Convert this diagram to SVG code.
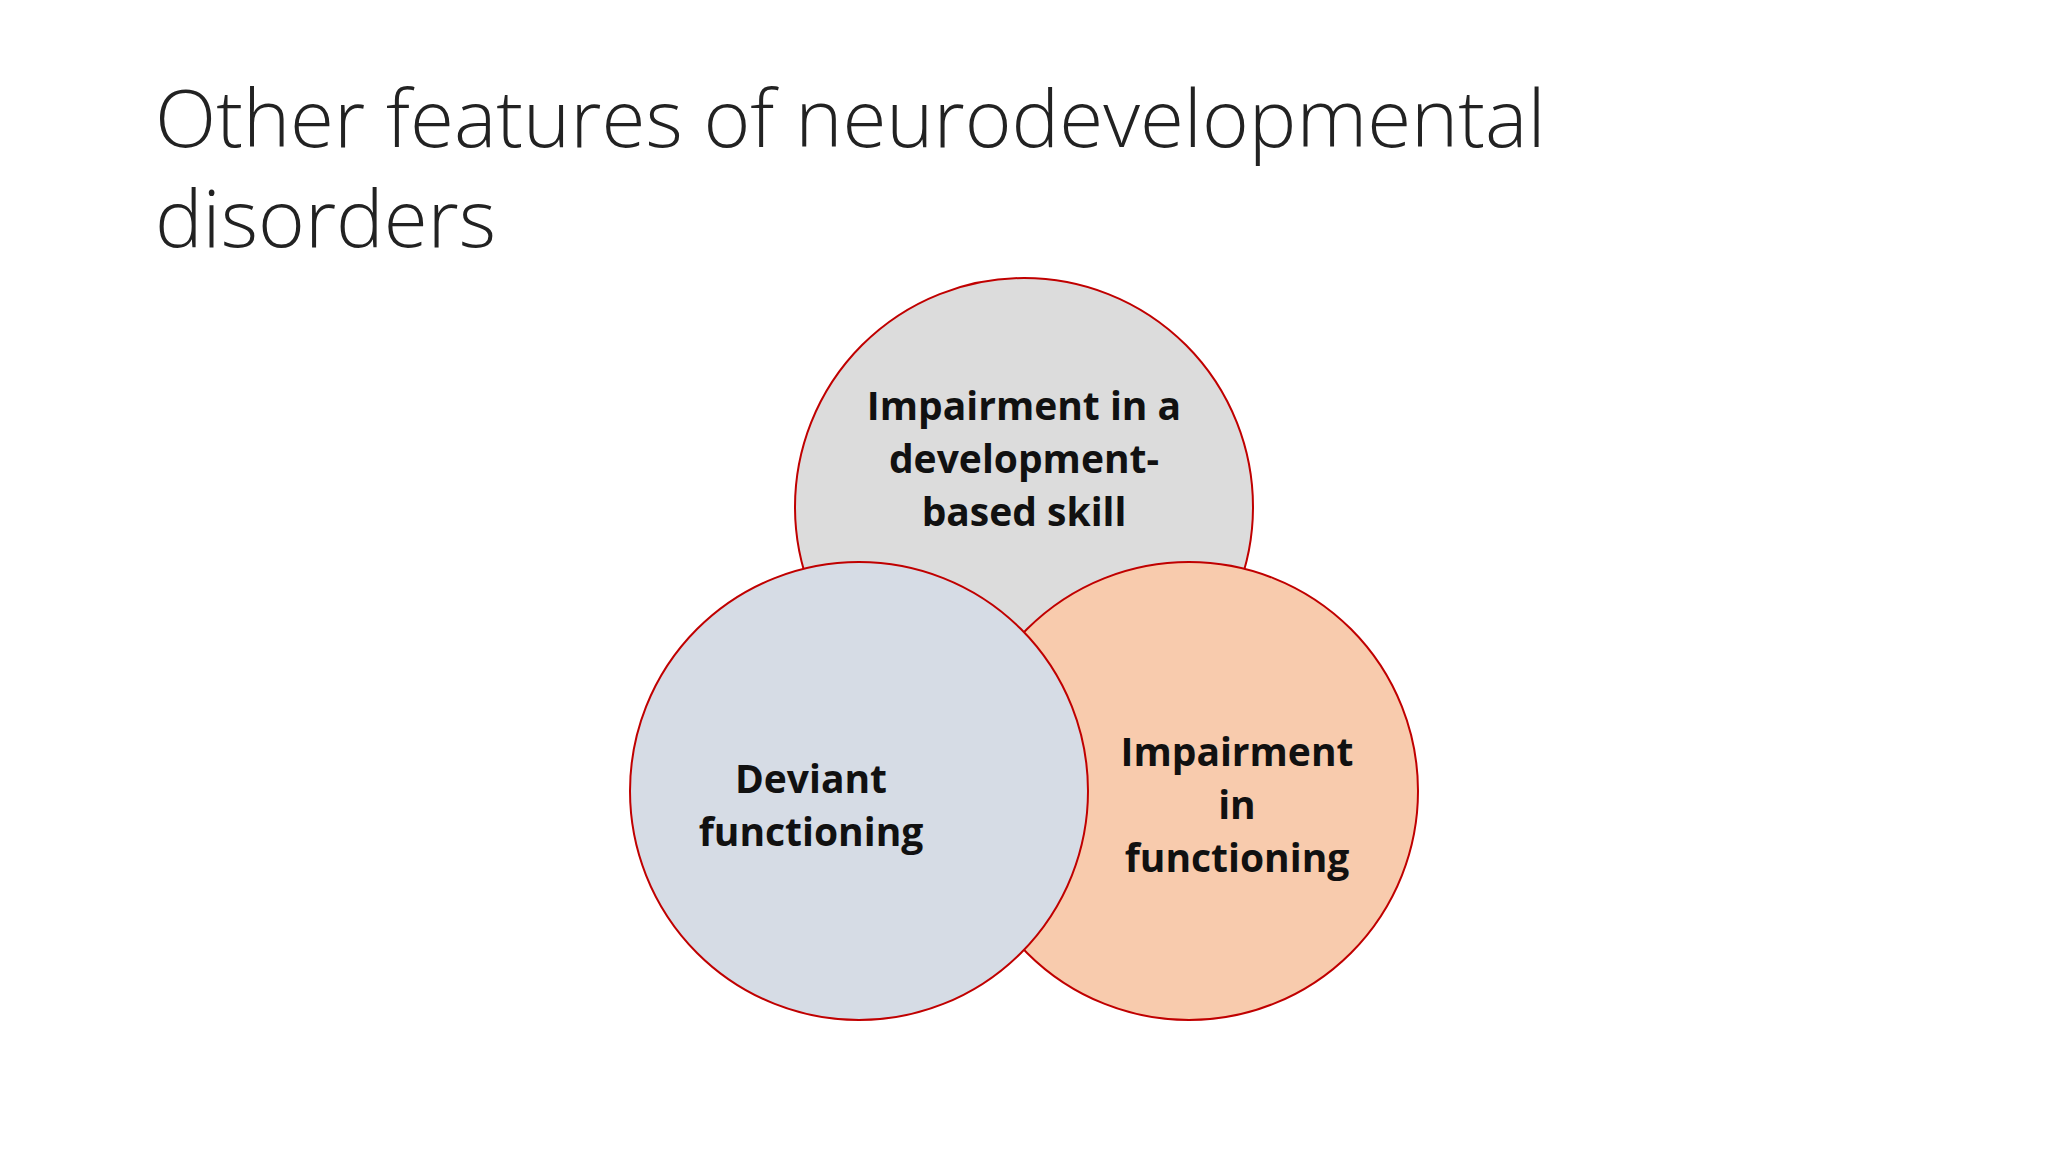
<svg xmlns="http://www.w3.org/2000/svg" width="2048" height="1152" viewBox="0 0 2048 1152">
<style>
.c{stroke:#c00000;stroke-width:2}
.t{font-family:"Open Sans","Liberation Sans",sans-serif;font-weight:300;font-size:80px;fill:#222}
.l{font-family:"Open Sans","Liberation Sans",sans-serif;font-weight:700;font-size:39px;fill:#111;text-anchor:middle}
</style>
<rect width="2048" height="1152" fill="#fff"/>
<g id="title"><text class="t" x="155" y="147">Other features of neurodevelopmental</text><text class="t" x="155" y="247">disorders</text></g>
<g id="top"><circle class="c" cx="1024" cy="507" r="229" fill="#dcdcdc"/>
<text class="l" x="1024" y="420">Impairment in a</text><text class="l" x="1024" y="473">development-</text><text class="l" x="1024" y="526">based skill</text></g>
<g id="right"><circle class="c" cx="1189" cy="791" r="229" fill="#f8cbad"/>
<text class="l" x="1237" y="766">Impairment</text><text class="l" x="1237" y="819">in</text><text class="l" x="1237" y="872">functioning</text></g>
<g id="left"><circle class="c" cx="859" cy="791" r="229" fill="#d6dce5"/>
<text class="l" x="811" y="793">Deviant</text><text class="l" x="811" y="846">functioning</text></g>
<g id="connectors"/>
</svg>
